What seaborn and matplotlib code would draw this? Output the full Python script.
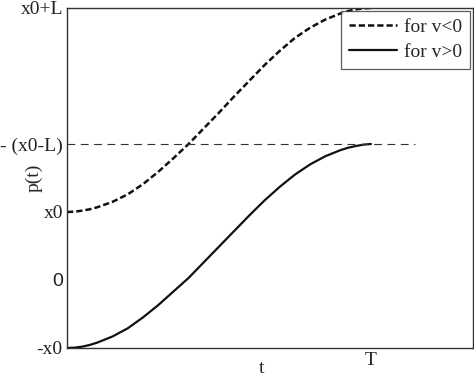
import numpy as np
import pandas as pd
import matplotlib
matplotlib.use("Agg")
import matplotlib.pyplot as plt
import seaborn as sns

# time axis (fraction of T) and the two position profiles
t = [0.000, 0.025, 0.050, 0.075, 0.100, 0.150, 0.200, 0.250, 0.300, 0.350, 0.400,
     0.450, 0.500, 0.550, 0.600, 0.650, 0.700, 0.750, 0.800, 0.850, 0.900,
     0.925, 0.950, 0.975, 1.000]
p_neg = [1.00, 1.005, 1.02, 1.04, 1.07, 1.15, 1.26, 1.41, 1.59, 1.79, 2.00,
         2.23, 2.46, 2.70, 2.93, 3.16, 3.37, 3.56, 3.71, 3.83, 3.92,
         3.955, 3.98, 3.995, 4.00]
p_pos = [-1.00, -0.995, -0.98, -0.955, -0.92, -0.83, -0.71, -0.55, -0.37, -0.17, 0.03,
         0.26, 0.49, 0.72, 0.95, 1.17, 1.37, 1.55, 1.70, 1.82, 1.91,
         1.945, 1.97, 1.99, 2.00]

ref_level = 2.0
ref_t = [0.0, 1.145]

yticks = [-1, 0, 1, 2, 4]
ytick_labels = ["-x0", "0", "x0", "- (x0-L)", "x0+L"]
xticks = [1.0]
xtick_labels = ["T"]

sns.set_style("white")
plt.rcParams["font.family"] = ["Liberation Serif", "DejaVu Serif"]

df_neg = pd.DataFrame({"t": t, "p": p_neg})
df_pos = pd.DataFrame({"t": t, "p": p_pos})

fig = plt.figure(figsize=(4.74, 3.77), dpi=100)
ax = fig.add_axes([67 / 474, 1 - 348 / 377, 406 / 474, 340 / 377])

sns.lineplot(data=df_neg, x="t", y="p", ax=ax, color="#111111", lw=1.8,
             linestyle=(0, (2.5, 1.2)), label="for v<0")
sns.lineplot(data=df_pos, x="t", y="p", ax=ax, color="#111111", lw=1.6,
             label="for v>0")
ax.plot(ref_t, [ref_level, ref_level], color="#333333", lw=0.8,
        linestyle=(0, (7, 5)))

ax.set_xlim(0, 1.336)
ax.set_ylim(-1, 4)
ax.set_xticks(xticks)
ax.set_xticklabels(xtick_labels)
ax.set_yticks(yticks)
ax.set_yticklabels(ytick_labels)
ax.tick_params(direction="in", length=3, width=0.8, labelsize=14, pad=3,
               colors="#222222")
for lab in ax.get_yticklabels():
    if lab.get_text() == "0":
        lab.set_fontfamily("Liberation Sans")

ax.set_xlabel("t", fontsize=14)
ax.xaxis.set_label_coords(0.478, -0.035)
ax.set_ylabel("p(t)", fontsize=14)
ax.yaxis.set_label_coords(-0.06, 0.50)

for s in ax.spines.values():
    s.set_color("#333333")
    s.set_linewidth(1.0)

leg = ax.legend(loc="upper right", fontsize=14, frameon=True, fancybox=False,
                edgecolor="#333333", handlelength=2.5, handletextpad=0.35,
                borderpad=0.4, labelspacing=0.35, borderaxespad=0.15)
leg.get_frame().set_linewidth(0.9)

plt.savefig("out.png", dpi=100)
plt.close()
